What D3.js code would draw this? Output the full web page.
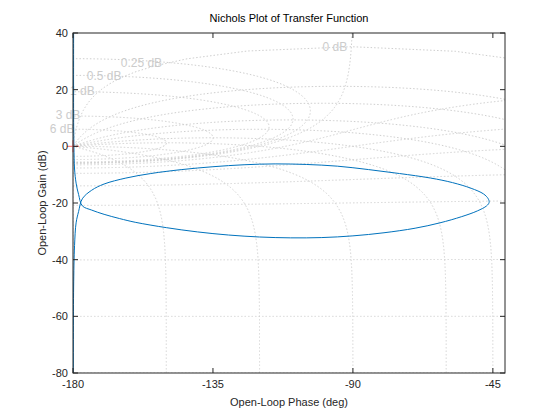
<!DOCTYPE html>
<html>
<head>
<meta charset="utf-8">
<script src="https://cdn.jsdelivr.net/npm/d3@7"></script>
<style>
  body { margin: 0; background: #fff; }
  text { font-family: "Liberation Sans", Arial, sans-serif; }
</style>
</head>
<body>
<svg id="chart" width="560" height="420"></svg>
<script>
// response curve (open-loop phase in deg, gain in dB)
const curvePhase = [-179.8, -179.8, -179.7, -179.5, -179, -178.2, -177, -174, -170, -165, -160, -150, -140, -130, -120, -110, -100, -90, -80, -70, -62, -55, -50, -47, -46.2,
  -46.5, -48, -52, -58, -65, -75, -85, -95, -105, -115, -125, -135, -145, -155, -163, -170, -174, -177, -178.2, -179, -179.5, -179.8, -179.9];
const curveGain = [40, 10, 0, -8, -13, -17, -21, -22.5, -24, -25.5, -26.8, -28.7, -30.2, -31.3, -32, -32.3, -32.2, -31.6, -30.5, -28.9, -27, -24.8, -22.8, -21, -19.8,
  -18.5, -16.8, -14.8, -12.8, -11.2, -9.6, -8.2, -7.0, -6.4, -6.2, -6.5, -7.2, -8.2, -9.6, -11.2, -13.3, -15.5, -18.5, -23, -27, -35, -50, -80];

// Nichols grid settings
const mContours = [6, 3, 1, 0.5, 0.25, 0, -1, -3, -6, -12, -20, -40, -60, -80];
const phaseContours = [-1, -5, -10, -20, -30, -45, -60, -90, -120, -150, -180, -210, -240, -270, -300, -330, -355];
const gridLabels = ["6 dB", "3 dB", "1 dB", "0.5 dB", "0.25 dB", "0 dB"];
const gridLabelPhase = [-183.5, -181.6, -177, -170, -158, -95.8];
const gridLabelGain = [6, 11, 19.4, 24.7, 29.4, 35];

const xTicks = [-180, -135, -90, -45];
const yTicks = [-80, -60, -40, -20, 0, 20, 40];

const svg = d3.select("#chart");
const pL = 73, pR = 505, pT = 33, pB = 373;
const x = d3.scaleLinear().domain([-180, -41.1]).range([pL, pR]);
const y = d3.scaleLinear().domain([-80, 40]).range([pB, pT]);

svg.append("defs").append("clipPath").attr("id", "clip")
  .append("rect").attr("x", pL).attr("y", pT).attr("width", pR - pL).attr("height", pB - pT);

// open-loop point from closed-loop T = m e^{j th}
function openLoop(m, th) {
  const tr = m * Math.cos(th), ti = m * Math.sin(th);
  const dr = 1 - tr, di = -ti;
  const d = dr * dr + di * di;
  const gr = (tr * dr + ti * di) / d, gi = (ti * dr - tr * di) / d;
  let ph = Math.atan2(gi, gr) * 180 / Math.PI;
  if (ph > 0) ph -= 360;
  return [ph, 20 * Math.log10(Math.hypot(gr, gi))];
}

const gridLine = d3.line()
  .defined(d => d[0] > -200 && d[0] < 0 && d[1] > -120 && d[1] < 80)
  .x(d => x(d[0])).y(d => y(d[1]));

const gridG = svg.append("g").attr("clip-path", "url(#clip)")
  .attr("fill", "none").attr("stroke", "#cfcfcf").attr("stroke-width", 1).attr("stroke-dasharray", "1.5,2");

mContours.forEach(mdb => {
  const m = Math.pow(10, mdb / 20);
  const pts = d3.range(-Math.PI + 1e-4, Math.PI, 0.002).filter(t => Math.abs(t) > 1e-3).map(t => openLoop(m, t));
  gridG.append("path").attr("d", gridLine(pts));
});
phaseContours.forEach(pd => {
  const th = pd * Math.PI / 180;
  const pts = d3.range(-4, 4, 0.005).map(e => openLoop(Math.pow(10, e), th));
  gridG.append("path").attr("d", gridLine(pts));
});

// grid labels
svg.append("g").selectAll("text").data(gridLabels).join("text")
  .attr("x", (d, i) => x(gridLabelPhase[i])).attr("y", (d, i) => y(gridLabelGain[i]) + 4)
  .attr("text-anchor", "middle").attr("font-size", 12).attr("fill", "#cccccc").text(d => d);

// response
const line = d3.line().x((d, i) => x(curvePhase[i])).y((d, i) => y(curveGain[i])).curve(d3.curveCatmullRom);
svg.append("path").attr("clip-path", "url(#clip)").attr("d", line(curvePhase))
  .attr("fill", "none").attr("stroke", "#0072bd").attr("stroke-width", 1);

// critical point
svg.append("path").attr("d", `M${x(-180) - 6},${y(0)}H${x(-180) + 6}M${x(-180)},${y(0) - 6}V${y(0) + 6}`)
  .attr("stroke", "#ff3030").attr("stroke-opacity", 0.6).attr("stroke-width", 1.2);

// axes box with inner ticks
const ax = svg.append("g").attr("stroke", "#262626").attr("stroke-width", 1);
ax.append("rect").attr("x", pL).attr("y", pT).attr("width", pR - pL).attr("height", pB - pT).attr("fill", "none");
xTicks.forEach(t => {
  ax.append("line").attr("x1", x(t)).attr("x2", x(t)).attr("y1", pB).attr("y2", pB - 5);
  ax.append("line").attr("x1", x(t)).attr("x2", x(t)).attr("y1", pT).attr("y2", pT + 5);
});
yTicks.forEach(t => {
  ax.append("line").attr("x1", pL).attr("x2", pL + 5).attr("y1", y(t)).attr("y2", y(t));
  ax.append("line").attr("x1", pR).attr("x2", pR - 5).attr("y1", y(t)).attr("y2", y(t));
});
svg.append("g").selectAll("text").data(xTicks).join("text")
  .attr("x", d => x(d)).attr("y", pB + 15).attr("text-anchor", "middle")
  .attr("font-size", 11).attr("fill", "#262626").text(d => d);
svg.append("g").selectAll("text").data(yTicks).join("text")
  .attr("x", pL - 5).attr("y", d => y(d) + 4).attr("text-anchor", "end")
  .attr("font-size", 11).attr("fill", "#262626").text(d => d);

svg.append("text").attr("x", (pL + pR) / 2).attr("y", 22).attr("text-anchor", "middle")
  .attr("font-size", 11).attr("fill", "#000").text("Nichols Plot of Transfer Function");
svg.append("text").attr("x", (pL + pR) / 2).attr("y", 406).attr("text-anchor", "middle")
  .attr("font-size", 11).attr("fill", "#262626").text("Open-Loop Phase (deg)");
svg.append("text").attr("transform", `translate(46,${(pT + pB) / 2}) rotate(-90)`).attr("text-anchor", "middle")
  .attr("font-size", 11).attr("fill", "#262626").text("Open-Loop Gain (dB)");
</script>
</body>
</html>
